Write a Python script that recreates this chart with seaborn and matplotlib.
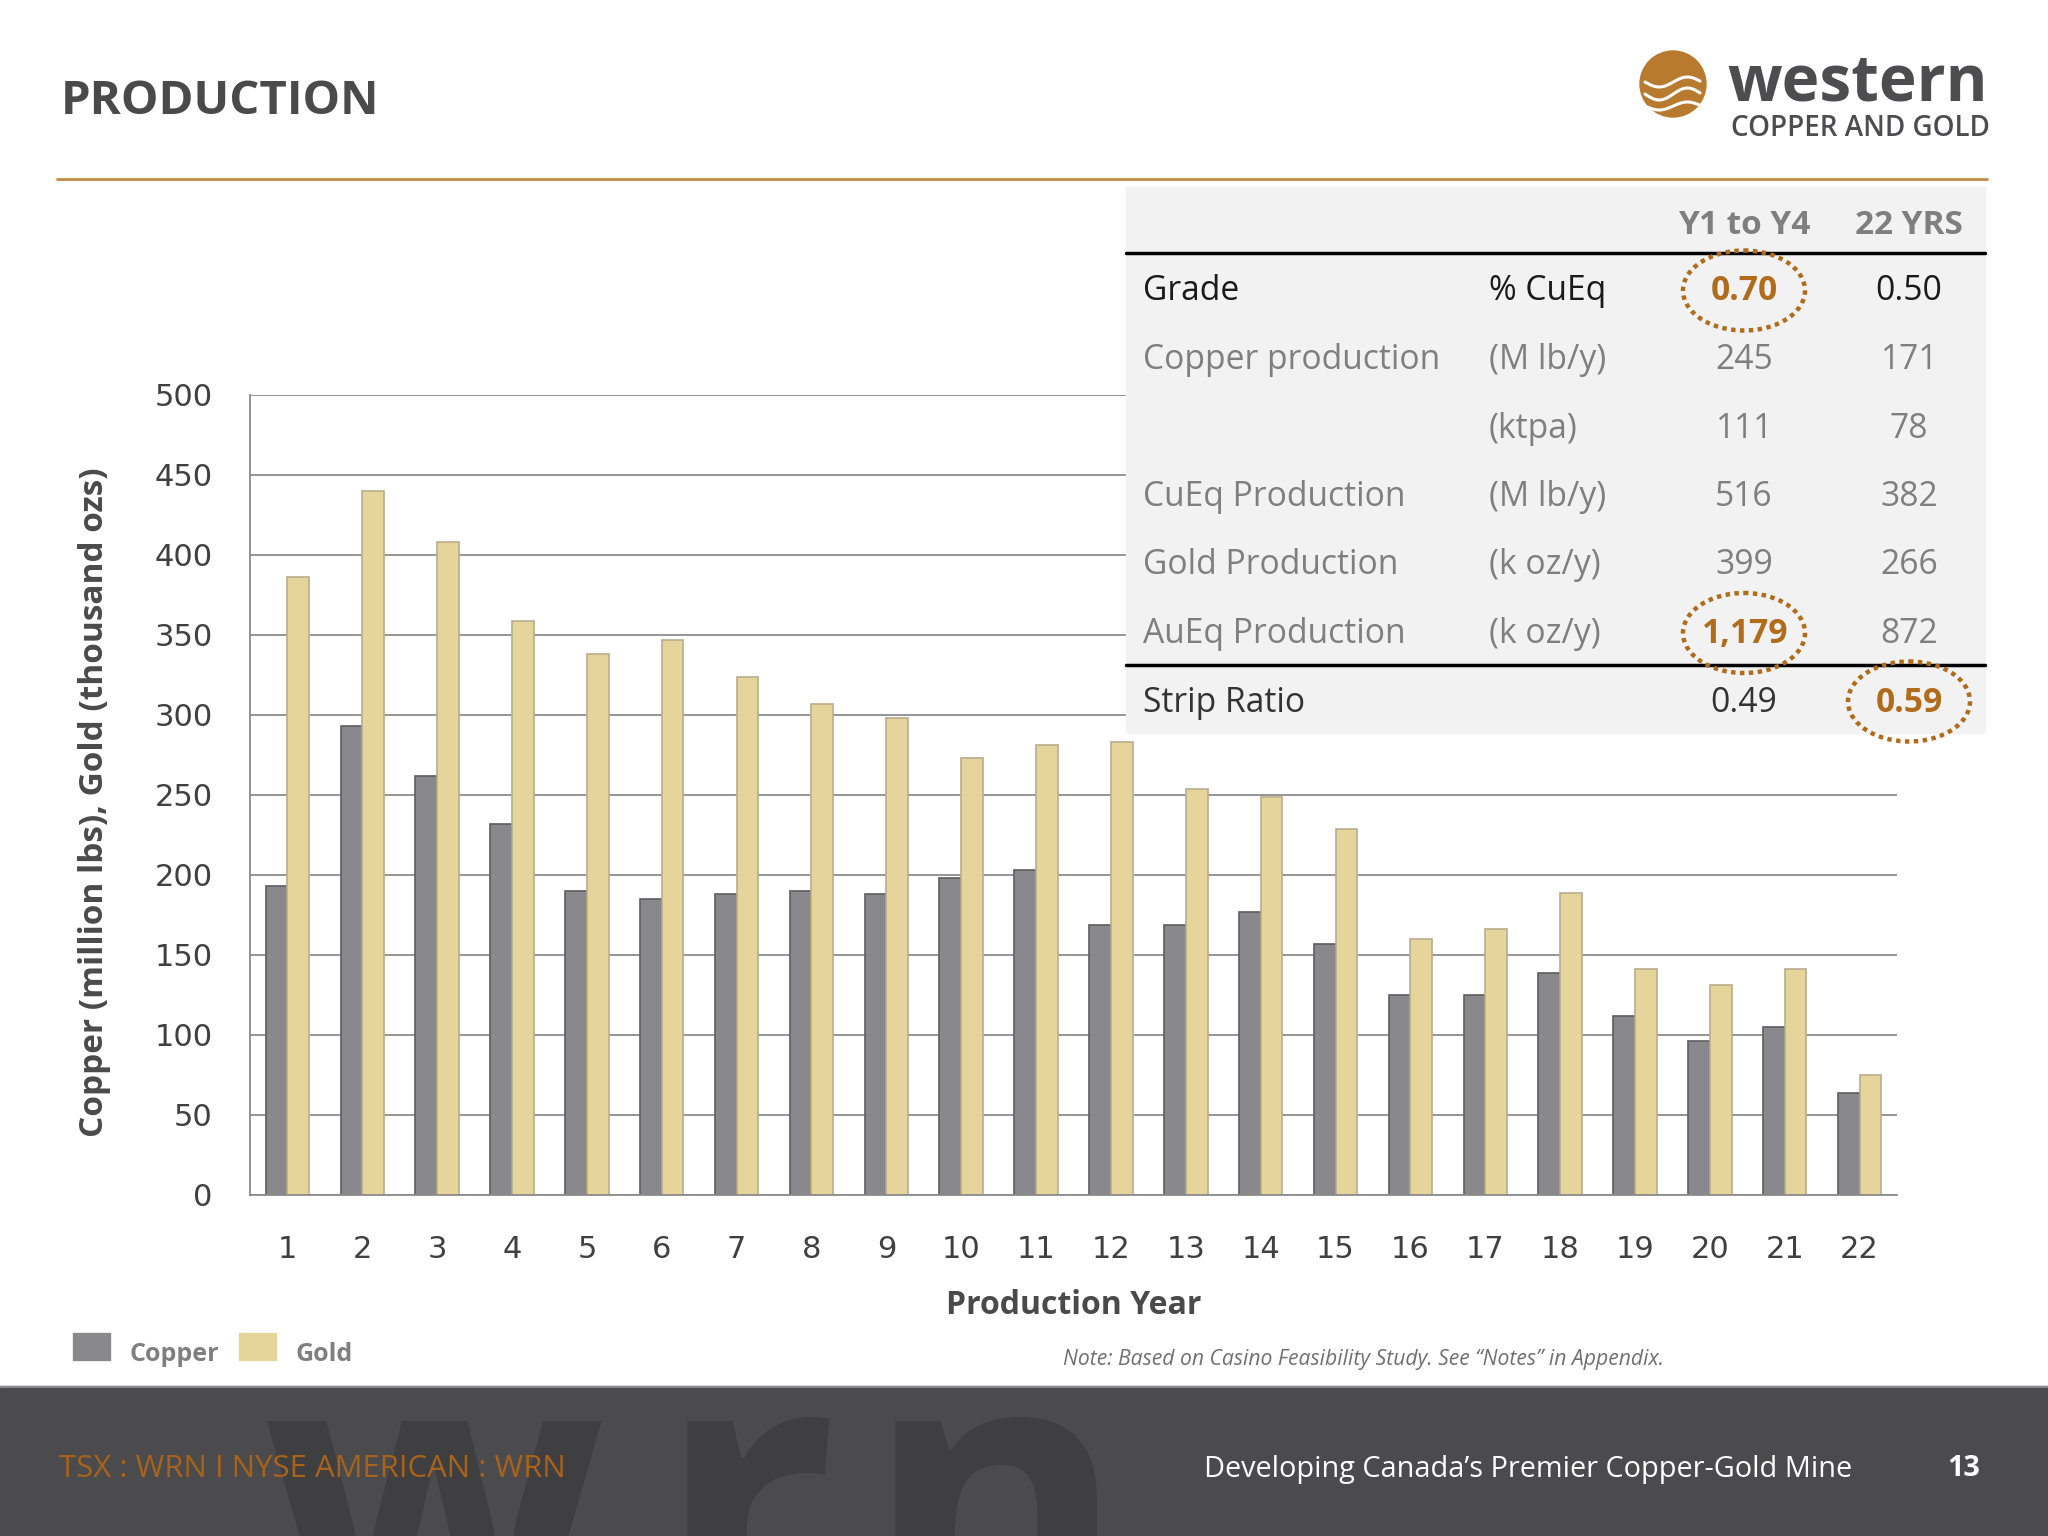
import numpy as np
import pandas as pd
import matplotlib
matplotlib.use('Agg')
from matplotlib import pyplot as plt
from matplotlib.patches import Rectangle, Circle, Ellipse
import seaborn as sns

# chart data
years = list(range(1, 23))
copper = [193, 293, 262, 232, 190, 185, 188, 190, 188, 198, 203,
          169, 169, 177, 157, 125, 125, 139, 112, 96, 105, 64]
gold = [386, 440, 408, 359, 338, 347, 324, 307, 298, 273, 281,
        283, 254, 249, 229, 160, 166, 189, 141, 131, 141, 75]

# summary table
row_labels = ['Grade', 'Copper production', '', 'CuEq Production',
              'Gold Production', 'AuEq Production', 'Strip Ratio']
row_units = ['% CuEq', '(M lb/y)', '(ktpa)', '(M lb/y)', '(k oz/y)', '(k oz/y)', '']
col_y1_y4 = ['0.70', '245', '111', '516', '399', '1,179', '0.49']
col_22yrs = ['0.50', '171', '78', '382', '266', '872', '0.59']
highlight = [(0, 0), (5, 0), (6, 1)]  # (row, col) circled in orange

sns.set_style('white')
plt.rcParams['font.family'] = ['Open Sans', 'DejaVu Sans']

c_copper = '#89888c'
c_gold = '#e6d59b'
c_orange = '#b06c1a'
c_dark = '#4a4a4a'
c_grey = '#7f7f7f'

df = pd.DataFrame({'Year': years * 2,
                   'Metal': ['Copper'] * len(years) + ['Gold'] * len(years),
                   'Value': copper + gold})

fig = plt.figure(figsize=(20.48, 15.36), dpi=100)
fig.patch.set_facecolor('white')

# main chart
ax = fig.add_axes([250 / 2048, 1 - 1195 / 1536, 1647 / 2048, 800 / 1536])
sns.barplot(data=df, x='Year', y='Value', hue='Metal',
            palette={'Copper': c_copper, 'Gold': c_gold},
            width=0.58, gap=0, saturation=1, linewidth=1.2, ax=ax)
for cont, ec in zip(ax.containers, ['#5e5e60', '#b9ad8e']):
    for b in cont:
        b.set_edgecolor(ec)

ax.set_ylim(0, 500)
ax.set_xlim(-0.5, len(years) - 0.5)
ax.set_yticks(np.arange(0, 501, 50))
ax.yaxis.grid(True, color='#8c8c8c', linewidth=1.3)
ax.set_axisbelow(True)
for s in ['top', 'right']:
    ax.spines[s].set_visible(False)
for s in ['left', 'bottom']:
    ax.spines[s].set_color('#8c8c8c')
    ax.spines[s].set_linewidth(1.3)
ax.tick_params(axis='y', direction='out', length=10, width=1.3, color='#8c8c8c',
               pad=17, labelsize=22, labelcolor='#404040', labelfontfamily='DejaVu Sans')
ax.tick_params(axis='x', which='major', length=0, pad=29, labelsize=22,
               labelcolor='#404040', labelfontfamily='DejaVu Sans')
ax.set_xticks(np.arange(-0.5, len(years)), minor=True)
ax.tick_params(axis='x', which='minor', direction='out', length=9.5, width=1.3, color='#8c8c8c')

ax.set_xlabel('Production Year', fontsize=23, fontweight='bold', color=c_dark)
ax.xaxis.set_label_coords(0.5, -0.118)
ax.set_ylabel('Copper (million lbs), Gold (thousand ozs)', fontsize=24,
              fontweight='bold', color=c_dark)
ax.yaxis.set_label_coords(-0.0844, 0.491)

handles, labels = ax.get_legend_handles_labels()
leg = ax.legend(handles, labels, loc='lower left', bbox_to_anchor=(72 / 2048, 1 - 1362 / 1536),
                bbox_transform=fig.transFigure, ncol=2, frameon=False, fontsize=18,
                handlelength=1.6, handleheight=1.5, handletextpad=0.7, columnspacing=0.76,
                borderpad=0, borderaxespad=0)
for t in leg.get_texts():
    t.set_color(c_grey)
    t.set_fontweight('bold')
    t.set_y(-6)

# overlay in pixel coordinates for the slide furniture
ov = fig.add_axes([0, 0, 1, 1])
ov.set_zorder(5)
ov.set_xlim(0, 2048)
ov.set_ylim(1536, 0)
ov.axis('off')

ov.text(61, 102, 'PRODUCTION', fontsize=34, fontweight='bold', color=c_dark, va='center')
ov.plot([57, 1987], [179, 179], color='#c58a45', lw=2)

# logo
ov.add_patch(Circle((1673, 84), 33, color='#b87a2e'))
for dy, amp in [(-2, 5), (10, 6), (22, 4)]:
    xx = np.linspace(1645, 1700, 40)
    ov.plot(xx, 84 + dy + amp * np.sin((xx - 1645) / 9), color='white', lw=2.2)
ov.text(1727, 84, 'western', fontsize=46, fontweight='bold', color='#4d4d4f', va='center')
ov.text(1731, 128, 'COPPER AND GOLD', fontsize=20, fontweight='semibold',
        color='#4d4d4f', va='center')

# table
ov.add_patch(Rectangle((1126, 187), 859, 546, color='#f2f2f2', zorder=1))
col_x = [1143, 1489, 1744, 1909]
ov.text(col_x[2], 226, 'Y1 to Y4', fontsize=24, fontweight='bold', color=c_grey,
        ha='center', va='center', zorder=3)
ov.text(col_x[3], 226, '22 YRS', fontsize=24, fontweight='bold', color=c_grey,
        ha='center', va='center', zorder=3)
ov.plot([1126, 1985], [253, 253], color='black', lw=2.5, zorder=3)
ov.plot([1126, 1985], [665, 665], color='black', lw=2.5, zorder=3)
row_y = 291.5 + 68.5 * np.arange(len(row_labels))
for i, y in enumerate(row_y):
    base = '#1a1a1a' if i == 0 else ('#333333' if i == len(row_labels) - 1 else c_grey)
    ov.text(col_x[0], y, row_labels[i], fontsize=24.2, color=base, va='center', zorder=3)
    ov.text(col_x[1], y, row_units[i], fontsize=24.2, color=base, va='center', zorder=3)
    for j, vals in enumerate([col_y1_y4, col_22yrs]):
        hl = (i, j) in highlight
        col = c_orange if hl else ('#1a1a1a' if i == 0 else base)
        ov.text(col_x[2 + j], y, vals[i], fontsize=24.2, color=col,
                fontweight='bold' if hl else 'normal', ha='center', va='center', zorder=3)
        if hl:
            ov.add_patch(Ellipse((col_x[2 + j], y - 1), 122, 80, fill=False, ec=c_orange,
                                 lw=3.2, ls=(0, (1, 1)), zorder=4))

ov.text(1063, 1360, 'Note: Based on Casino Feasibility Study. See \u201cNotes\u201d in Appendix.',
        fontsize=15.2, style='italic', color='#707070', va='center')

# footer band with the faint "wrn" watermark
ov.add_patch(Rectangle((0, 1386), 2048, 150, color='#4b4a4d', zorder=1))
ov.plot([0, 2048], [1387, 1387], color='#8a8a8a', lw=1.5, zorder=2)
for ch, x in [('w', 262), ('r', 656), ('n', 864)]:
    ov.text(x, 1640, ch, fontsize=288, fontweight='bold', color='#3f3e41', zorder=2)
ov.text(59, 1469, 'TSX : WRN I NYSE AMERICAN : WRN', fontsize=22.4, color='#a8631a',
        va='center', zorder=3)
ov.text(1204, 1469, 'Developing Canada\u2019s Premier Copper-Gold Mine', fontsize=20.8,
        color='white', va='center', zorder=3)
ov.text(1964, 1469, '13', fontsize=20.8, fontweight='bold', color='white',
        ha='center', va='center', zorder=3)

fig.savefig('out.png', dpi=100)
plt.close(fig)
